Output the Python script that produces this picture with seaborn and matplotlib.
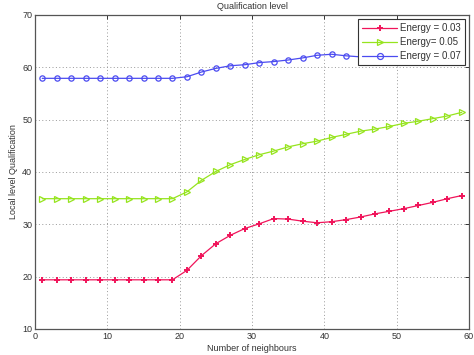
import numpy as np
import pandas as pd
import matplotlib
matplotlib.use("Agg")
import matplotlib.pyplot as plt
from matplotlib.lines import Line2D
import seaborn as sns

neighbours = list(range(1, 60, 2))
energy_003 = [19.4] * 10 + [21.2, 24.0, 26.3, 27.9, 29.2, 30.1, 31.1, 31.0, 30.6, 30.3,
                            30.5, 30.9, 31.4, 32.0, 32.5, 33.0, 33.6, 34.2, 34.9, 35.5]
energy_005 = [34.9] * 10 + [36.2, 38.4, 40.1, 41.4, 42.4, 43.3, 44.0, 44.8, 45.4, 45.9,
                            46.6, 47.2, 47.8, 48.2, 48.7, 49.3, 49.7, 50.2, 50.7, 51.4]
energy_007 = [57.9] * 10 + [58.2, 59.1, 59.8, 60.3, 60.5, 60.9, 61.1, 61.4, 61.8, 62.3,
                            62.5, 62.2, 62.0, 62.2, 62.4, 62.6, 62.9, 63.1, 63.3, 63.5]
labels = ["Energy = 0.03", "Energy= 0.05", "Energy = 0.07"]
title = "Qualification level"
xlabel = "Number of neighbours"
ylabel = "Local level Qualification"

df = pd.DataFrame({
    "x": neighbours * 3,
    "y": energy_003 + energy_005 + energy_007,
    "series": [labels[0]] * 30 + [labels[1]] * 30 + [labels[2]] * 30,
})

sns.set_style("white")
plt.rcParams["font.family"] = ["Liberation Sans", "DejaVu Sans"]

colors = ["#f0145a", "#96e41e", "#4b4bf0"]
markers = ["+", ">", "o"]
sns_markers = ["P", ">", "o"]
msizes = [4.5, 4.3, 3.8]

fig = plt.figure(figsize=(4.74, 3.55), dpi=100)
ax = fig.add_axes([35 / 474, 1 - 329 / 355, (469 - 35) / 474, (329 - 15) / 355])

sns.lineplot(data=df, x="x", y="y", hue="series", style="series", ax=ax,
             palette=dict(zip(labels, colors)), markers=dict(zip(labels, sns_markers)),
             dashes=False, lw=0.9, markersize=4.5, legend=False)

for line, col, mk, ms in zip(ax.lines, colors, markers, msizes):
    line.set_linestyle("-")
    line.set_marker(mk)
    line.set_color(col)
    line.set_markeredgecolor(col)
    line.set_markersize(ms)
    if mk == "+":
        line.set_markeredgewidth(1.4)
    else:
        line.set_markerfacecolor("none")
        line.set_markeredgewidth(0.9)

ax.set_xlim(0, 60)
ax.set_ylim(10, 70)
ax.set_xticks(range(0, 61, 10))
ax.set_yticks(range(10, 71, 10))
ax.grid(True, linestyle=(0, (1, 2.5)), color="#999999", linewidth=0.7)
for s in ax.spines.values():
    s.set_color("#555555")
    s.set_linewidth(0.9)
ax.tick_params(direction="in", length=3, width=0.7, colors="#333333",
               labelsize=6.5, top=True, right=True, pad=2)
ax.set_title(title, fontsize=6.5, color="#333333", pad=4)
ax.set_xlabel(xlabel, fontsize=6.5, color="#333333", labelpad=2)
ax.set_ylabel(ylabel, fontsize=6.5, color="#333333", labelpad=3)

handles = []
for lab, col, mk, ms in zip(labels, colors, markers, msizes):
    handles.append(Line2D([], [], color=col, lw=0.9, marker=mk, markersize=ms + 0.5,
                          markerfacecolor=(col if mk == "+" else "none"),
                          markeredgecolor=col,
                          markeredgewidth=(1.4 if mk == "+" else 0.9)))
leg = ax.legend(handles, labels, loc="upper right", fontsize=7.0, frameon=True,
                fancybox=False, borderaxespad=0.4, handlelength=3.6,
                labelspacing=0.4, borderpad=0.45, handletextpad=0.3)
leg.get_frame().set_edgecolor("#333333")
leg.get_frame().set_linewidth(0.8)
leg.get_frame().set_alpha(1)
for t in leg.get_texts():
    t.set_color("#333333")

fig.savefig("out.png", dpi=100)
